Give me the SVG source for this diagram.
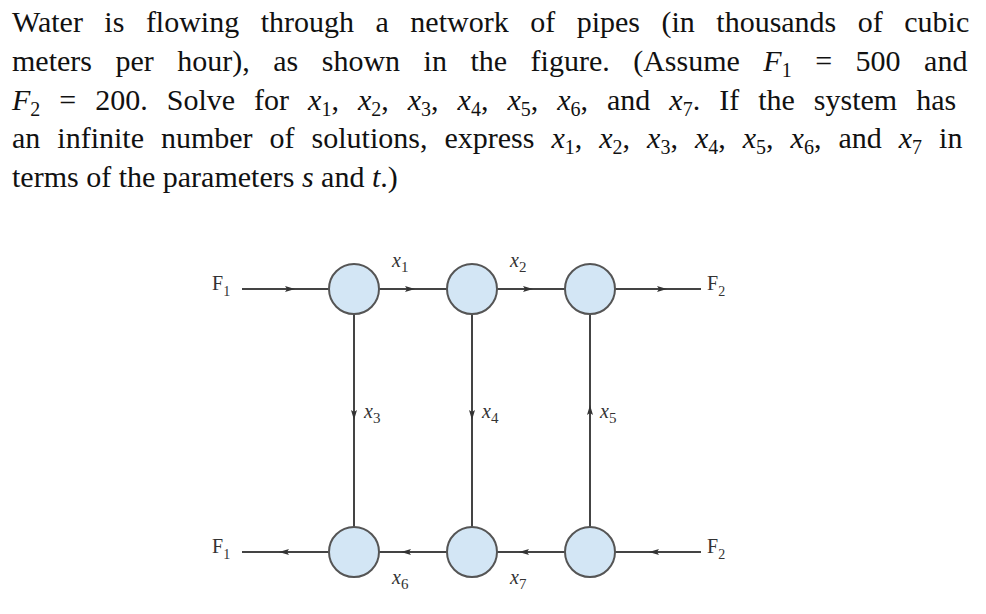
<svg xmlns="http://www.w3.org/2000/svg" width="986" height="614" viewBox="0 0 986 614">
<style>
.t{font-family:"Liberation Serif",serif;font-size:30px;fill:#111}
.i{font-style:italic}
.s{font-size:20px}
.lab{font-family:"Liberation Serif",serif;font-size:20px;fill:#333}
.li{font-style:italic}
.pipe{stroke:#444;stroke-width:2;fill:none}
.node{fill:#d3e6f5;stroke:#555;stroke-width:2}
</style>
<defs>
<marker id="a" viewBox="0 0 10 6" refX="5" refY="3" markerWidth="10" markerHeight="6" markerUnits="userSpaceOnUse" orient="auto"><path d="M0,0 L10,3 L0,6 L2,3 Z" fill="#333"/></marker>
</defs>
<rect width="986" height="614" fill="#fff"/>
<text class="t" x="12" y="32" word-spacing="14">Water is flowing through a network of pipes (in thousands of cubic</text>
<text class="t" x="12" y="71" word-spacing="16">meters per hour), as shown in the figure.  (Assume <tspan class="i">F</tspan><tspan class="s" dy="6">1</tspan><tspan dy="-6"> = 500 and</tspan></text>
<text class="t" x="12" y="110" word-spacing="11.5"><tspan class="i">F</tspan><tspan class="s" dy="6">2</tspan><tspan dy="-6"> = 200.  Solve for </tspan><tspan class="i">x</tspan><tspan class="s" dy="6">1</tspan><tspan dy="-6">, </tspan><tspan class="i">x</tspan><tspan class="s" dy="6">2</tspan><tspan dy="-6">, </tspan><tspan class="i">x</tspan><tspan class="s" dy="6">3</tspan><tspan dy="-6">, </tspan><tspan class="i">x</tspan><tspan class="s" dy="6">4</tspan><tspan dy="-6">, </tspan><tspan class="i">x</tspan><tspan class="s" dy="6">5</tspan><tspan dy="-6">, </tspan><tspan class="i">x</tspan><tspan class="s" dy="6">6</tspan><tspan dy="-6">, and </tspan><tspan class="i">x</tspan><tspan class="s" dy="6">7</tspan><tspan dy="-6">.  If the system has</tspan></text>
<text class="t" x="12" y="148" word-spacing="9.5">an infinite number of solutions, express <tspan class="i">x</tspan><tspan class="s" dy="6">1</tspan><tspan dy="-6">, </tspan><tspan class="i">x</tspan><tspan class="s" dy="6">2</tspan><tspan dy="-6">, </tspan><tspan class="i">x</tspan><tspan class="s" dy="6">3</tspan><tspan dy="-6">, </tspan><tspan class="i">x</tspan><tspan class="s" dy="6">4</tspan><tspan dy="-6">, </tspan><tspan class="i">x</tspan><tspan class="s" dy="6">5</tspan><tspan dy="-6">, </tspan><tspan class="i">x</tspan><tspan class="s" dy="6">6</tspan><tspan dy="-6">, and </tspan><tspan class="i">x</tspan><tspan class="s" dy="6">7</tspan><tspan dy="-6"> in</tspan></text>
<text class="t" x="12" y="187">terms of the parameters <tspan class="i">s</tspan> and <tspan class="i">t</tspan>.)</text>
<g id="connectors">
<path class="pipe" d="M242,289 H329"/><path class="pipe" d="M242,289 H290" marker-end="url(#a)"/>
<path class="pipe" d="M379,289 H447"/><path class="pipe" d="M379,289 H410" marker-end="url(#a)"/>
<path class="pipe" d="M497,289 H565"/><path class="pipe" d="M497,289 H528" marker-end="url(#a)"/>
<path class="pipe" d="M615,289 H701"/><path class="pipe" d="M615,289 H662" marker-end="url(#a)"/>
<path class="pipe" d="M354,314 V527"/><path class="pipe" d="M354,314 V415" marker-end="url(#a)"/>
<path class="pipe" d="M472,314 V527"/><path class="pipe" d="M472,314 V415" marker-end="url(#a)"/>
<path class="pipe" d="M590,314 V527"/><path class="pipe" d="M590,527 V410" marker-end="url(#a)"/>
<path class="pipe" d="M329,552 H242"/><path class="pipe" d="M329,552 H284" marker-end="url(#a)"/>
<path class="pipe" d="M447,552 H379"/><path class="pipe" d="M447,552 H406" marker-end="url(#a)"/>
<path class="pipe" d="M565,552 H497"/><path class="pipe" d="M565,552 H524" marker-end="url(#a)"/>
<path class="pipe" d="M701,552 H615"/><path class="pipe" d="M701,552 H654" marker-end="url(#a)"/>
</g>
<g id="n1"><circle class="node" cx="354" cy="289" r="25"/></g>
<g id="n2"><circle class="node" cx="472" cy="289" r="25"/></g>
<g id="n3"><circle class="node" cx="590" cy="289" r="25"/></g>
<g id="n4"><circle class="node" cx="354" cy="552" r="25"/></g>
<g id="n5"><circle class="node" cx="472" cy="552" r="25"/></g>
<g id="n6"><circle class="node" cx="590" cy="552" r="25"/></g>
<g id="labels">
<text class="lab" x="212" y="290">F<tspan font-size="14" dy="6">1</tspan></text>
<text class="lab" x="707" y="290">F<tspan font-size="14" dy="6">2</tspan></text>
<text class="lab" x="212" y="553">F<tspan font-size="14" dy="6">1</tspan></text>
<text class="lab" x="707" y="553">F<tspan font-size="14" dy="6">2</tspan></text>
<text class="lab" x="392" y="267"><tspan class="li">x</tspan><tspan font-size="15" dy="5">1</tspan></text>
<text class="lab" x="510" y="267"><tspan class="li">x</tspan><tspan font-size="15" dy="5">2</tspan></text>
<text class="lab" x="364" y="418"><tspan class="li">x</tspan><tspan font-size="15" dy="5">3</tspan></text>
<text class="lab" x="482" y="418"><tspan class="li">x</tspan><tspan font-size="15" dy="5">4</tspan></text>
<text class="lab" x="600" y="418"><tspan class="li">x</tspan><tspan font-size="15" dy="5">5</tspan></text>
<text class="lab" x="392" y="584"><tspan class="li">x</tspan><tspan font-size="15" dy="5">6</tspan></text>
<text class="lab" x="510" y="584"><tspan class="li">x</tspan><tspan font-size="15" dy="5">7</tspan></text>
</g>
</svg>
